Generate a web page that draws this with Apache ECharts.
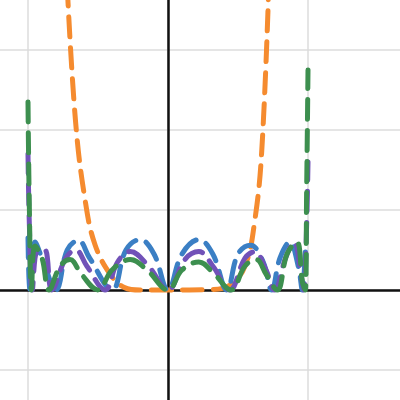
<!DOCTYPE html>
<html><head><meta charset="utf-8">
<script src="https://cdn.jsdelivr.net/npm/echarts@6/dist/echarts.min.js"></script>
<style>html,body{margin:0;padding:0;background:#fff;overflow:hidden;width:400px;height:400px;position:relative}#c{position:absolute;left:-112px;top:-30px;width:560px;height:480px}</style>
</head><body><div id="c"></div>
<script>
const orange = [[-0.72,3.8],[-0.66,2.1],[-0.59,1.1],[-0.52,0.56],[-0.41,0.19],[-0.31,0.03],[-0.2,0],[0,0],[0.3,0.005],[0.44,0.06],[0.55,0.3],[0.62,0.87],[0.67,1.75],[0.72,3.8]];
const blue = [[-1,0.65],[-0.985,0],[-0.95,0.6],[-0.9,0.4],[-0.8,0],[-0.72,0.5],[-0.64,0.62],[-0.56,0.4],[-0.4,0],[-0.3,0.5],[-0.2,0.63],[-0.1,0.45],[0,0],[0.1,0.45],[0.22,0.63],[0.32,0.45],[0.42,0],[0.5,0.45],[0.59,0.56],[0.68,0.35],[0.74,0],[0.8,0.4],[0.87,0.6],[0.93,0.3],[0.96,0],[0.985,0.55],[1,0.6]];
const purple = [[-1,1.7],[-0.99,0.8],[-0.97,0],[-0.93,0.5],[-0.88,0.5],[-0.83,0],[-0.73,0.4],[-0.66,0.5],[-0.58,0.3],[-0.45,0],[-0.36,0.35],[-0.27,0.48],[-0.14,0.3],[0,0],[0.12,0.38],[0.22,0.48],[0.32,0.3],[0.44,0],[0.55,0.4],[0.62,0.48],[0.7,0.25],[0.76,0],[0.84,0.4],[0.9,0.6],[0.95,0.2],[0.97,0],[0.99,0.8],[1,1.6]];
const green = [[-1,2.35],[-0.99,1.0],[-0.975,0],[-0.95,0.55],[-0.9,0.4],[-0.85,0],[-0.77,0.3],[-0.7,0.38],[-0.62,0.2],[-0.5,0],[-0.4,0.25],[-0.27,0.38],[-0.15,0.25],[0,0],[0.1,0.25],[0.22,0.35],[0.33,0.2],[0.45,0],[0.55,0.3],[0.63,0.38],[0.7,0.2],[0.78,0],[0.85,0.45],[0.92,0.6],[0.96,0.1],[0.98,0],[0.99,1.2],[1,2.75]];
const mk = (d,c)=>({type:'line',data:d,smooth:0.4,showSymbol:false,clip:true,lineStyle:{color:c,width:5,type:[20,11],cap:'round'}});
const ch = echarts.init(document.getElementById('c'));
ch.setOption({animation:false,
 grid:{left:0,right:0,top:0,bottom:0},
 xAxis:{type:'value',min:-2,max:2,interval:1,axisLabel:{show:false},axisTick:{show:false},
   axisLine:{onZero:true,lineStyle:{color:'#111',width:2.5}},splitLine:{lineStyle:{color:'#ddd',width:1.5}}},
 yAxis:{type:'value',min:-2,max:4,interval:1,axisLabel:{show:false},axisTick:{show:false},
   axisLine:{onZero:true,lineStyle:{color:'#111',width:2.5}},splitLine:{lineStyle:{color:'#ddd',width:1.5}}},
 series:[mk(orange,'#f58b2f'),mk(blue,'#3b7fc4'),mk(purple,'#7152b8'),mk(green,'#3d8f4f')]
});
</script></body></html>
